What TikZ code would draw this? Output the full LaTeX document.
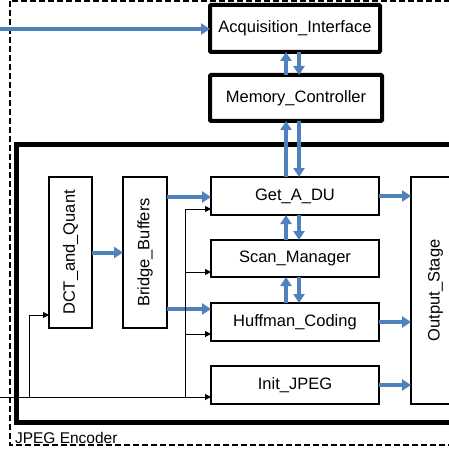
\documentclass[tikz,border=0pt]{standalone}
\usepackage{fontspec}
\setmainfont{Liberation Sans}
\usetikzlibrary{arrows.meta}
\definecolor{arrowblue}{HTML}{4F81BD}
\begin{document}
\begin{tikzpicture}[x=1pt,y=-1pt,
  every node/.style={inner sep=0pt,outer sep=0pt,font=\fontsize{16.5}{18}\selectfont},
  thickbox/.style={draw,line width=4pt,rounded corners=1pt},
  plainbox/.style={draw,line width=2pt},
  barrow/.style={draw=arrowblue,line width=4pt,-{Triangle[length=9pt,width=11pt]}},
  karrow/.style={draw,line width=1pt,-{Triangle[length=6pt,width=6pt]}}]
\useasboundingbox (0,0) rectangle (449,449);
% outer dashed region
\draw[line width=2pt,dash pattern=on 6pt off 3pt] (10,1) rectangle (470,445);
% JPEG encoder thick box
\draw[line width=5pt] (16,145) rectangle (470,422);
\node[anchor=base west,font=\fontsize{15.5}{17}\selectfont] (lbl) at (15,443) {JPEG Encoder};
% nodes
\node[thickbox,minimum width=170pt,minimum height=47pt] (acq) at (295,28.5) {Acquisition\_Interface};
\node[thickbox,minimum width=172pt,minimum height=46pt] (mem) at (296,98) {Memory\_Controller};
\node[plainbox,minimum width=168pt,minimum height=38pt] (get) at (295,196) {Get\_A\_DU};
\node[plainbox,minimum width=168pt,minimum height=37pt] (scan) at (295,258.5) {Scan\_Manager};
\node[plainbox,minimum width=168pt,minimum height=38pt] (huff) at (295,322) {Huffman\_Coding};
\node[plainbox,minimum width=168pt,minimum height=38pt] (init) at (295,385) {Init\_JPEG};
\node[plainbox,rotate=90,minimum width=227pt,minimum height=49pt] (out) at (435.5,290.5) {Output\_Stage};
\node[plainbox,rotate=90,minimum width=151pt,minimum height=43pt] (dct) at (70.5,252.5) {DCT\_and\_Quant};
\node[plainbox,rotate=90,minimum width=151pt,minimum height=44pt] (bb) at (145,252.5) {Bridge\_Buffers};
% helper coordinates
\coordinate (xu) at (286,0);
\coordinate (xd) at (299,0);
\coordinate (inA) at (0,29);
\coordinate (inB) at (0,397);
\coordinate (y197) at (0,197);
\coordinate (y309) at (0,309);
\coordinate (xv) at (185,0);
\coordinate (xl) at (29,0);
\coordinate (y209) at (0,209);
\coordinate (y272) at (0,272);
\coordinate (y334) at (0,334);
\coordinate (y315) at (0,315);
% blue arrows
\draw[barrow] (inA) -- (acq.west |- inA);
\draw[barrow] (mem.north -| xu) -- (acq.south -| xu);
\draw[barrow] (acq.south -| xd) -- (mem.north -| xd);
\draw[barrow] (get.north -| xu) -- (mem.south -| xu);
\draw[barrow] (mem.south -| xd) -- (get.north -| xd);
\draw[barrow] (scan.north -| xu) -- (get.south -| xu);
\draw[barrow] (get.south -| xd) -- (scan.north -| xd);
\draw[barrow] (huff.north -| xu) -- (scan.south -| xu);
\draw[barrow] (scan.south -| xd) -- (huff.north -| xd);
\draw[barrow] (dct.south) -- (bb.north);
\draw[barrow] (bb.south |- y197) -- (get.west |- y197);
\draw[barrow] (bb.south |- y309) -- (huff.west |- y309);
\draw[barrow] (get.east) -- (out.north |- get.east);
\draw[barrow] (huff.east) -- (out.north |- huff.east);
\draw[barrow] (init.east) -- (out.north |- init.east);
% black control lines
\draw[karrow] (inB) -- (init.west |- inB);
\draw[line width=1pt] (xv |- inB) -- (xv |- y209);
\draw[karrow] (xv |- y209) -- (get.west |- y209);
\draw[karrow] (xv |- y272) -- (scan.west |- y272);
\draw[karrow] (xv |- y334) -- (huff.west |- y334);
\draw[karrow] (xl |- inB) -- (xl |- y315) -- (dct.north |- y315);
\end{tikzpicture}
\end{document}
